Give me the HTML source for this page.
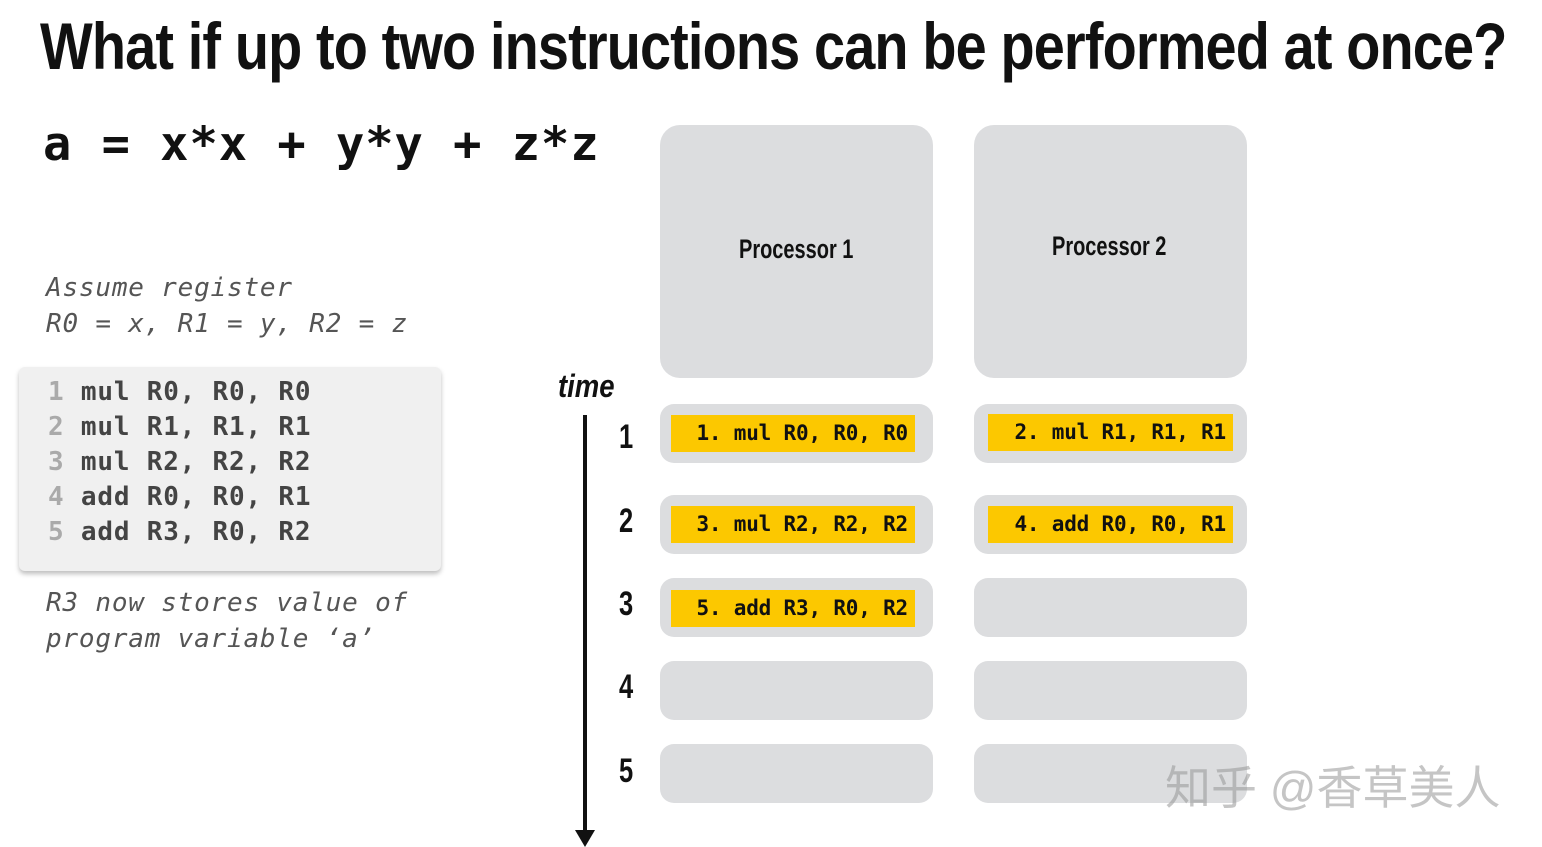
<!DOCTYPE html>
<html><head><meta charset="utf-8"><style>
body{margin:0;width:1542px;height:847px;background:#fff;position:relative;overflow:hidden;font-family:"Liberation Sans",sans-serif}
.a{position:absolute}
.t{left:40px;top:8px;font-weight:bold;font-size:66px;white-space:nowrap;transform:scaleX(0.846);transform-origin:left top;color:#111;letter-spacing:-1px}
.m{font-family:"DejaVu Sans Mono","Liberation Mono",monospace}
.box{background:#dcdddf;border-radius:14px}
.y{position:absolute;background:#fcc800;font-family:"DejaVu Sans Mono",monospace;font-weight:bold;font-size:21px;color:#111;line-height:37px;text-align:right;padding-right:7px;box-sizing:border-box;white-space:nowrap;letter-spacing:-0.2px}
.n{font-weight:bold;font-size:34px;transform:scaleX(.75);transform-origin:left top;color:#111}
.pl{font-weight:bold;font-size:27px;transform:scaleX(.74);transform-origin:left top;color:#111;white-space:nowrap}
</style></head><body>
<div class="a t">What if up to two instructions can be performed at once?</div>
<div class="a m" style="left:43px;top:117px;font-size:47px;font-weight:bold;color:#111;white-space:pre;letter-spacing:1px">a = x*x + y*y + z*z</div>
<div class="a m" style="left:46px;top:270px;font-size:26px;font-style:italic;color:#555;line-height:36px;white-space:pre;letter-spacing:0.8px">Assume register
R0 = x, R1 = y, R2 = z</div>
<div class="a" style="left:19px;top:367px;width:422px;height:204px;background:#f0f0f0;border-radius:6px;box-shadow:0 3px 5px rgba(0,0,0,.25)"></div>
<div class="a m" style="left:48px;top:375px;font-size:26px;color:#444;line-height:35px;white-space:pre;letter-spacing:0.8px;font-weight:bold"><span style="color:#aaa">1</span> mul R0, R0, R0
<span style="color:#aaa">2</span> mul R1, R1, R1
<span style="color:#aaa">3</span> mul R2, R2, R2
<span style="color:#aaa">4</span> add R0, R0, R1
<span style="color:#aaa">5</span> add R3, R0, R2</div>
<div class="a m" style="left:46px;top:585px;font-size:26px;font-style:italic;color:#555;line-height:36px;white-space:pre;letter-spacing:0.8px">R3 now stores value of
program variable ‘a’</div>

<div class="a box" style="left:660px;top:125px;width:273px;height:253px;border-radius:20px"></div>
<div class="a box" style="left:974px;top:125px;width:273px;height:253px;border-radius:20px"></div>
<div class="a pl" style="left:739px;top:234px">Processor 1</div>
<div class="a pl" style="left:1052px;top:231px">Processor 2</div>

<div class="a" style="left:558px;top:368px;font-weight:bold;font-style:italic;font-size:32px;transform:scaleX(.86);transform-origin:left top;color:#111">time</div>
<div class="a" style="left:583px;top:415px;width:4px;height:420px;background:#111"></div>
<div class="a" style="left:575px;top:830px;width:0;height:0;border-left:10px solid transparent;border-right:10px solid transparent;border-top:17px solid #111"></div>

<div class="a n" style="left:619px;top:418px">1</div>
<div class="a n" style="left:619px;top:502px">2</div>
<div class="a n" style="left:619px;top:585px">3</div>
<div class="a n" style="left:619px;top:668px">4</div>
<div class="a n" style="left:619px;top:752px">5</div>

<div class="a box" style="left:660px;top:404px;width:273px;height:59px"></div>
<div class="a box" style="left:974px;top:404px;width:273px;height:59px"></div>
<div class="a box" style="left:660px;top:495px;width:273px;height:59px"></div>
<div class="a box" style="left:974px;top:495px;width:273px;height:59px"></div>
<div class="a box" style="left:660px;top:578px;width:273px;height:59px"></div>
<div class="a box" style="left:974px;top:578px;width:273px;height:59px"></div>
<div class="a box" style="left:660px;top:661px;width:273px;height:59px"></div>
<div class="a box" style="left:974px;top:661px;width:273px;height:59px"></div>
<div class="a box" style="left:660px;top:744px;width:273px;height:59px"></div>
<div class="a box" style="left:974px;top:744px;width:273px;height:59px"></div>

<div class="y" style="left:671px;top:415px;width:244px">1. mul R0, R0, R0</div>
<div class="y" style="left:988px;top:414px;width:245px">2. mul R1, R1, R1</div>
<div class="y" style="left:671px;top:506px;width:244px">3. mul R2, R2, R2</div>
<div class="y" style="left:988px;top:506px;width:245px">4. add R0, R0, R1</div>
<div class="y" style="left:671px;top:590px;width:244px">5. add R3, R0, R2</div>

<div class="a" style="left:1165px;top:752px;font-family:'Liberation Sans','Noto Sans CJK SC',sans-serif;font-size:46px;color:rgba(150,150,150,.55);white-space:nowrap">知乎 @香草美人</div>
</body></html>
